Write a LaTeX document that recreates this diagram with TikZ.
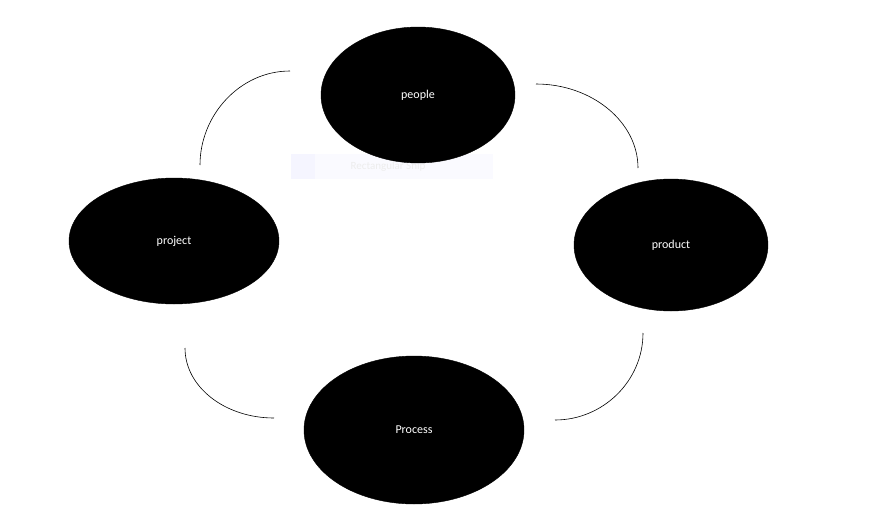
\documentclass[tikz,border=0pt]{standalone}
\usepackage{fontspec}
\setmainfont{Carlito}
\usetikzlibrary{shapes.geometric}
\begin{document}
\begin{tikzpicture}[x=1pt,y=-1pt,
  blob/.style={ellipse,fill=black,draw=black,text=white,font=\fontsize{12}{14}\selectfont,inner sep=0pt},
  link/.style={draw=black,line width=0.6pt}]
\useasboundingbox (0,0) rectangle (887,517);
\fill[blue!2] (291,154) rectangle (493,179);
\fill[blue!4] (291,154) rectangle (315,179);
\node[font=\fontsize{11}{13}\selectfont,text=black!7] (snip) at (388,167) {Rectangular Snip};
\node[blob,minimum width=194pt,minimum height=136pt] (people) at (418,95) {people};
\node[blob,minimum width=194pt,minimum height=132pt] (product) at (671,245) {product};
\node[blob,minimum width=210pt,minimum height=126pt] (project) at (174,241) {project};
\node[blob,minimum width=220pt,minimum height=148pt] (process) at (414,430) {Process};
\coordinate (a1) at (290,71); \coordinate (a2) at (200,165);
\coordinate (b1) at (536,84); \coordinate (b2) at (638,168);
\coordinate (c1) at (643,333); \coordinate (c2) at (555,420);
\coordinate (d1) at (185,348); \coordinate (d2) at (274,418);
\draw[link] (a1) .. controls (240,71) and (200,115) .. (a2);
\draw[link] (b1) .. controls (592,84) and (638,122) .. (b2);
\draw[link] (c1) .. controls (643,381) and (603,420) .. (c2);
\draw[link] (d1) .. controls (185,387) and (225,418) .. (d2);
\end{tikzpicture}
\end{document}
